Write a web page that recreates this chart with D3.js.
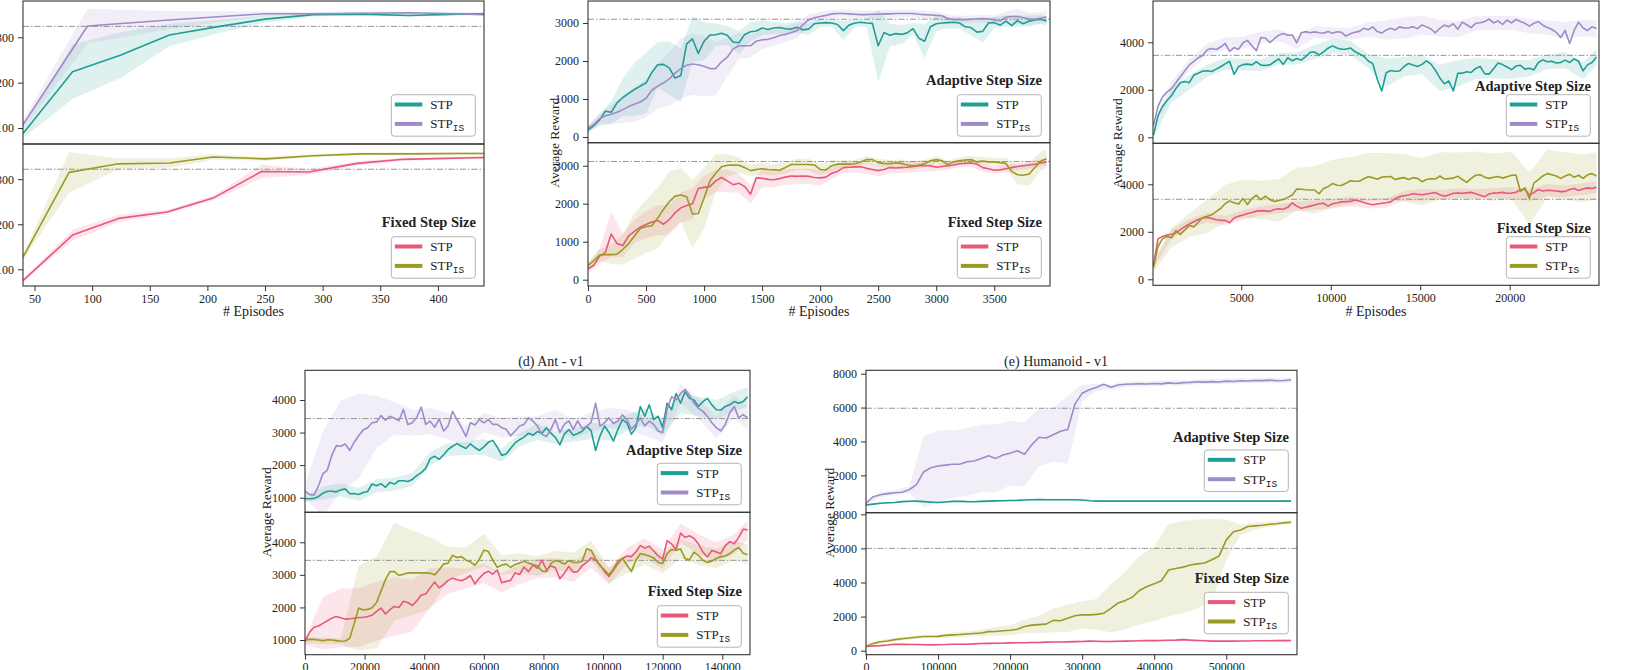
<!DOCTYPE html>
<html>
<head>
<meta charset="utf-8">
<script src="https://cdn.jsdelivr.net/npm/d3@7"></script>
<style>
  body { margin: 0; background: #fff; }
  svg { display: block; font-family: 'Liberation Serif', 'Times New Roman', serif; }
</style>
</head>
<body>
<svg id="chart" width="1640" height="670"></svg>
<script>
// colours of the four runs
const tealColor = '#1f9e94';
const purpleColor = '#9e8bc8';
const pinkColor = '#e8587a';
const oliveColor = '#9a9b22';

// ---------- panel 1 (top left) ----------
const p1TealX = [40, 83, 125, 167, 208, 250, 292, 333, 375, 417, 440];
const p1TealY = [88, 224, 261, 305, 323, 340, 350, 351, 348, 351, 352];
const p1TealSd = [10, 60, 50, 25, 15, 8, 4, 3, 3, 3, 3];
const p1PurpleX = [40, 96, 167, 250, 292, 333, 375, 417, 440];
const p1PurpleY = [107, 325, 338, 352, 352, 353, 354, 352, 350];
const p1PurpleSd = [10, 38, 20, 5, 3, 3, 3, 3, 3];
const p1PinkX = [40, 83, 123, 165, 205, 247, 288, 330, 370, 440];
const p1PinkY = [75, 176, 213, 227, 258, 317, 316, 335, 344, 348];
const p1PinkSd = [3, 12, 8, 5, 5, 15, 6, 5, 3, 3];
const p1OliveX = [40, 80, 123, 167, 205, 250, 292, 333, 375, 417, 440];
const p1OliveY = [127, 315, 334, 336, 349, 345, 352, 356, 356, 357, 357];
const p1OliveSd = [5, 45, 12, 10, 6, 4, 3, 3, 3, 3, 3];

// ---------- panel 2 (top middle), one value every 50 episodes ----------
const p2Episodes = d3.range(0, 4000, 50);
const p2Teal = [180, 300, 450, 680, 650, 900, 1040, 1150, 1250, 1340,
  1420, 1700, 1900, 1910, 1820, 1550, 1620, 2450, 2580, 2200,
  2520, 2680, 2690, 2730, 2680, 2500, 2480, 2700, 2770, 2790,
  2870, 2830, 2870, 2880, 2850, 2840, 2890, 2820, 2840, 2980,
  3000, 3010, 3000, 2960, 2800, 2950, 3000, 3020, 3000, 2990,
  2400, 2750, 2680, 2720, 2700, 2740, 2850, 2600, 2520, 2900,
  2980, 3000, 3010, 3020, 3000, 2900, 2880, 2760, 2780, 3000,
  3010, 2940, 3050, 2930, 3060, 2980, 3050, 3080, 3100, 3050];
const p2Purple = [230, 330, 480, 560, 600, 650, 720, 800, 860, 920,
  1020, 1230, 1340, 1420, 1530, 1680, 1800, 1890, 1920, 1900,
  1860, 1800, 1800, 1980, 2100, 2320, 2400, 2400, 2400, 2520,
  2560, 2570, 2610, 2670, 2700, 2750, 2800, 2950, 3080, 3140,
  3170, 3200, 3240, 3250, 3250, 3240, 3230, 3220, 3220, 3230,
  3230, 3240, 3240, 3250, 3250, 3250, 3250, 3230, 3220, 3210,
  3200, 3190, 3120, 3090, 3090, 3090, 3100, 3110, 3120, 3110,
  3080, 3060, 3150, 3170, 3170, 3140, 3110, 3100, 3130, 3160];
const p2Pink = [280, 380, 620, 720, 1200, 950, 900, 1150, 1270, 1380,
  1450, 1520, 1560, 1460, 1580, 1760, 1890, 1950, 2000, 2400,
  2430, 2450, 2600, 2690, 2600, 2500, 2540, 2450, 2250, 2680,
  2670, 2640, 2630, 2660, 2700, 2730, 2720, 2730, 2720, 2690,
  2680, 2700, 2800, 2850, 2950, 2960, 2970, 2970, 2930, 2900,
  2870, 2900, 2950, 2940, 2950, 2960, 2980, 3000, 3000, 3000,
  2960, 2980, 3000, 3020, 3050, 3060, 3070, 3040, 2950, 2920,
  2880, 2890, 2920, 2950, 2980, 3000, 3020, 3040, 3070, 3100];
const p2Olive = [380, 500, 650, 660, 660, 670, 800, 950, 1150, 1350,
  1400, 1420, 1620, 1850, 2050, 2200, 2230, 2180, 1730, 1740,
  2150, 2600, 2800, 2970, 3010, 3020, 3010, 2950, 2870, 2900,
  2920, 2900, 2890, 2880, 2950, 3030, 3030, 3030, 3030, 3020,
  2900, 2890, 3000, 3040, 3040, 3040, 3050, 3100, 3160, 3160,
  3080, 3060, 3050, 3080, 3060, 3020, 3000, 3020, 3050, 3130,
  3160, 3130, 3030, 3100, 3130, 3150, 3160, 3100, 3120, 3100,
  3100, 3080, 3060, 2850, 2760, 2750, 2780, 2950, 3120, 3180];
// spread of the shaded band, one value every 100 episodes
const p2TealSd = [80, 150, 300, 500, 700, 800, 600, 700, 700, 600, 500, 300, 250, 300, 250, 200, 150, 150, 150, 150,
  100, 100, 250, 100, 100, 950, 300, 250, 150, 450, 200, 150, 150, 200, 300, 150, 150, 150, 150, 120];
const p2PurpleSd = [80, 150, 250, 350, 450, 500, 600, 700, 800, 800, 800, 700, 500, 350, 300, 250, 200, 200, 200, 150,
  120, 100, 100, 100, 100, 100, 100, 100, 100, 100, 100, 100, 100, 100, 100, 120, 150, 200, 150, 150];
const p2PinkSd = [100, 200, 600, 300, 300, 350, 400, 400, 400, 400, 300, 300, 300, 250, 250, 250, 200, 200, 200, 200,
  200, 150, 150, 150, 150, 150, 150, 150, 150, 150, 100, 100, 100, 100, 100, 100, 100, 100, 100, 100];
const p2OliveSd = [100, 150, 250, 400, 600, 700, 800, 800, 700, 900, 800, 500, 300, 200, 150, 150, 150, 150, 150, 150,
  150, 150, 100, 100, 100, 100, 100, 100, 100, 100, 100, 100, 100, 100, 100, 100, 150, 250, 300, 250];

// ---------- panel 3 (top right), one value every 250 episodes ----------
const p3Episodes = d3.range(100, 25000, 250);
const p3Teal = [100, 900, 1300, 1550, 1750, 2050, 2300, 2350, 2300, 2620,
  2700, 2790, 2800, 2770, 2870, 2970, 3090, 3200, 2650, 2980,
  3060, 3080, 3050, 3180, 3040, 3020, 3050, 3180, 3300, 3070,
  3350, 3220, 3320, 3250, 3400, 3580, 3590, 3470, 3600, 3750,
  3850, 3760, 3710, 3710, 3760, 3610, 3510, 3410, 3210, 3100,
  2450, 1950, 2720, 2810, 2780, 2790, 2980, 3110, 3040, 2980,
  3070, 3220, 3080, 2820, 2500, 2250, 2370, 1950, 2690, 2700,
  2760, 2730, 2900, 2980, 2680, 2660, 2890, 3130, 3060, 2960,
  2850, 3000, 3030, 2870, 2910, 2840, 3150, 3260, 3180, 3200,
  3130, 3150, 3250, 3150, 3300, 3200, 2800, 3050, 3150, 3380];
const p3Purple = [500, 1300, 1700, 1900, 2050, 2300, 2550, 2800, 3050, 3200,
  3350, 3450, 3690, 3740, 3700, 3800, 3950, 3620, 3780, 3700,
  3980, 4080, 3850, 3650, 4200, 4180, 3990, 4150, 4300, 4370,
  4300, 4310, 3980, 4400, 4450, 4400, 4440, 4400, 4380, 4450,
  4380, 4440, 4420, 4260, 4360, 4420, 4460, 4590, 4530, 4650,
  4450, 4390, 4520, 4590, 4520, 4650, 4600, 4600, 4660, 4570,
  4730, 4650, 4560, 4400, 4590, 4720, 4660, 4780, 4550, 4850,
  4740, 4620, 4800, 4820, 4870, 4980, 4820, 4900, 4750, 4940,
  4820, 4960, 4880, 4800, 4680, 4800, 4870, 4720, 4620, 4550,
  4420, 4200, 4500, 3950, 4500, 4850, 4600, 4500, 4650, 4580];
const p3Pink = [600, 1700, 1800, 1860, 1900, 1950, 2090, 2220, 2330, 2420,
  2520, 2580, 2600, 2560, 2510, 2480, 2480, 2380, 2580, 2660,
  2710, 2770, 2810, 2870, 2890, 2880, 2860, 2940, 2970, 2950,
  3030, 3220, 3080, 2990, 3030, 3080, 3130, 3180, 3200, 3080,
  3180, 3210, 3260, 3270, 3280, 3340, 3300, 3230, 3180, 3140,
  3170, 3200, 3220, 3260, 3400, 3480, 3520, 3550, 3600, 3580,
  3560, 3590, 3620, 3650, 3560, 3500, 3550, 3620, 3630, 3620,
  3640, 3660, 3600, 3540, 3480, 3590, 3630, 3640, 3660, 3620,
  3630, 3660, 3770, 3790, 3550, 3650, 3780, 3720, 3750, 3740,
  3720, 3690, 3700, 3780, 3820, 3740, 3800, 3850, 3820, 3880];
const p3Olive = [500, 1380, 1700, 1800, 1750, 2050, 1890, 2080, 2280, 2200,
  2400, 2600, 2650, 2720, 2850, 2980, 3180, 3300, 3220, 3170,
  3400, 3150, 3410, 3540, 3350, 3500, 3350, 3280, 3320, 3360,
  3450, 3550, 3800, 3790, 3770, 3760, 3760, 3600, 3820, 3900,
  4030, 3960, 3950, 4040, 4150, 4130, 4130, 4230, 4320, 4280,
  4210, 4300, 4320, 4330, 4200, 4250, 4280, 4200, 4280, 4250,
  4110, 4200, 4230, 4220, 4350, 4220, 4240, 4260, 4340, 4200,
  4080, 4250, 4380, 4400, 4300, 4250, 4300, 4330, 4260, 4320,
  4380, 4390, 3700, 3850, 3400, 4050, 4200, 4350, 4450, 4400,
  4350, 4250, 4350, 4420, 4300, 4380, 4250, 4400, 4450, 4350];
// band spread, one value every 1000 episodes
const p3TealSd = [100, 300, 300, 250, 250, 250, 250, 250, 250, 300, 300, 300, 300, 600, 400, 400, 550, 550, 450, 400, 400, 350, 300, 350, 350];
const p3PurpleSd = [200, 300, 250, 250, 250, 250, 250, 250, 250, 250, 250, 250, 300, 400, 450, 400, 350, 350, 300, 300, 300, 300, 300, 350, 350];
const p3PinkSd = [150, 200, 200, 200, 200, 200, 200, 200, 200, 200, 200, 200, 200, 200, 200, 250, 200, 200, 200, 200, 250, 250, 250, 250, 250];
const p3OliveSd = [200, 400, 500, 700, 800, 800, 800, 900, 900, 1000, 1000, 1000, 1000, 1000, 1000, 1000, 1000, 1000, 1000, 1000, 1000, 1100, 1000, 1000, 1000];

// ---------- panel 4 (Ant - v1), one value every 1500 episodes ----------
const p4Episodes = d3.range(0, 150000, 1500);
const p4Teal = [970, 970, 980, 1030, 1140, 1200, 1200, 1180, 1240, 1270,
  1120, 1130, 1100, 1160, 1190, 1420, 1370, 1430, 1320, 1470,
  1420, 1520, 1520, 1500, 1560, 1680, 1770, 1900, 2200, 2270,
  2180, 2320, 2480, 2580, 2660, 2580, 2510, 2650, 2540, 2450,
  2560, 2700, 2760, 2550, 2300, 2340, 2520, 2680, 2780, 2860,
  2980, 2920, 3030, 2980, 3150, 2980, 2850, 2620, 2950, 3090,
  2920, 2970, 3040, 3190, 3050, 2450, 2900, 3200, 3000, 2740,
  3100, 3400, 3300, 2950, 3150, 3800, 3500, 3850, 3400, 3500,
  3150, 3900, 3700, 4200, 3900, 4250, 4050, 4000, 3800, 3950,
  4050, 3850, 3700, 3690, 3800, 3850, 3950, 3900, 3950, 4100];
const p4Purple = [1200, 1100, 1080, 1360, 1730, 1850, 2300, 2600, 2580, 2650,
  2450, 2700, 2900, 3080, 3150, 3300, 3320, 3520, 3380, 3500,
  3440, 3360, 3710, 3250, 3300, 3470, 3780, 3250, 3350, 3160,
  3420, 3050, 3200, 3650, 3400, 3150, 2880, 3300, 3230, 3400,
  3300, 3400, 3250, 3250, 3150, 3100, 2900, 3050, 3200, 3250,
  3450, 3350, 3200, 2950, 2880, 3100, 3400, 3000, 3250, 3360,
  3100, 3360, 3120, 3180, 3320, 3900, 3200, 3300, 3450, 3280,
  3350, 3540, 3400, 3100, 3250, 3450, 3200, 3350, 3250, 3050,
  3000, 3700, 4100, 4000, 4200, 4320, 4150, 3900, 3750, 3650,
  3500, 3300, 3150, 3050, 3250, 3600, 3800, 3450, 3550, 3450];
const p4Pink = [950, 1230, 1390, 1430, 1510, 1590, 1670, 1720, 1680, 1640,
  1650, 1670, 1690, 1690, 1720, 1760, 1880, 1980, 1800, 1930,
  2030, 2000, 2190, 2150, 2060, 2200, 2380, 2410, 2600, 2780,
  2600, 2700, 2830, 2900, 2850, 2820, 2880, 2980, 2720, 2900,
  3040, 3110, 3020, 3150, 2760, 2800, 2830, 3060, 3010, 3240,
  3100, 3300, 3200, 3450, 3150, 3280, 3220, 2880, 3050, 3260,
  3080, 3100, 3280, 3380, 3520, 3450, 3300, 3100, 2950, 3150,
  3350, 3500, 3580, 3560, 3700, 3900, 3820, 3880, 3730, 3580,
  3480, 4050, 3950, 3780, 4280, 4150, 4200, 4120, 3950, 3700,
  3550, 3750, 3700, 3650, 3900, 4020, 3950, 4150, 4400, 4380];
const p4Olive = [1000, 1020, 1020, 1000, 980, 1010, 1000, 980, 960, 970,
  1050, 1500, 1980, 1920, 1940, 1990, 2150, 2500, 2850, 3100,
  3100, 2980, 3020, 3060, 3060, 3060, 3060, 3060, 3050, 3000,
  3150, 3330, 3360, 3600, 3530, 3560, 3450, 3400, 3290, 3480,
  3760, 3720, 3460, 3230, 3300, 3330, 3230, 3320, 3360, 3420,
  3360, 3320, 3270, 3120, 3100, 3350, 3440, 3400, 3330, 3440,
  3380, 3380, 3420, 3800, 3750, 3480, 3280, 3150, 3000, 3180,
  3420, 3500, 3300, 3100, 3450, 3650, 3620, 3580, 3520, 3380,
  3350, 3650, 3780, 3750, 3800, 3500, 3460, 3700, 3600, 3450,
  3380, 3420, 3500, 3560, 3580, 3650, 3760, 3840, 3660, 3620];
// band spread, one value every 6000 episodes
const p4TealSd = [100, 200, 200, 200, 200, 200, 200, 200, 200, 200, 250, 200, 200, 250, 200, 200, 250, 250, 250, 250, 250, 300, 300, 300, 300];
const p4PurpleSd = [200, 1300, 1400, 1300, 800, 500, 400, 400, 400, 350, 300, 300, 300, 300, 300, 300, 300, 300, 300, 300, 300, 300, 300, 350, 350];
const p4PinkSd = [100, 800, 900, 900, 900, 900, 800, 600, 400, 300, 300, 300, 300, 300, 300, 300, 300, 250, 250, 300, 300, 300, 300, 300, 300];
const p4OliveSd = [100, 100, 100, 1300, 1400, 1500, 1300, 1100, 500, 400, 500, 300, 300, 300, 300, 300, 300, 250, 250, 300, 300, 300, 300, 300, 300];

// ---------- panel 5 (Humanoid - v1), one value every 10000 episodes ----------
const p5Episodes = d3.range(0, 600000, 10000);
const p5Teal = [250, 300, 350, 380, 400, 450, 470, 480, 450, 420,
  400, 430, 460, 470, 450, 440, 460, 480, 490, 500,
  510, 520, 540, 560, 570, 560, 560, 560, 560, 560,
  540, 500, 480, 480, 480, 480, 480, 480, 480, 480,
  480, 480, 480, 480, 480, 480, 480, 480, 480, 480,
  480, 480, 480, 480, 480, 480, 480, 480, 480, 490];
const p5Purple = [350, 740, 850, 920, 970, 1000, 1150, 1450, 2200, 2450,
  2550, 2600, 2650, 2650, 2800, 2850, 3000, 3150, 3000, 3200,
  3300, 3450, 3250, 3800, 4250, 4200, 4400, 4600, 4700, 6200,
  6850, 7050, 7200, 7380, 7200, 7330, 7380, 7390, 7400, 7390,
  7420, 7400, 7460, 7420, 7470, 7490, 7520, 7500, 7530, 7510,
  7560, 7540, 7580, 7570, 7600, 7590, 7620, 7580, 7600, 7630];
const p5Pink = [250, 280, 300, 330, 380, 370, 360, 360, 350, 340,
  350, 360, 380, 380, 380, 400, 420, 430, 440, 440,
  460, 470, 470, 480, 480, 500, 510, 510, 520, 530,
  540, 560, 550, 540, 540, 550, 560, 570, 580, 590,
  590, 600, 610, 620, 650, 620, 600, 580, 560, 560,
  560, 560, 570, 570, 580, 580, 580, 590, 590, 600];
const p5Olive = [250, 430, 520, 570, 650, 700, 740, 790, 830, 830,
  840, 900, 930, 950, 980, 1010, 1040, 1120, 1130, 1170,
  1200, 1260, 1420, 1500, 1530, 1560, 1780, 1760, 1900, 2050,
  2100, 2100, 2130, 2200, 2480, 2800, 2950, 3150, 3550, 3760,
  3920, 4100, 4730, 4820, 4900, 5030, 5090, 5140, 5330, 5550,
  6500, 6980, 7080, 7280, 7320, 7360, 7420, 7450, 7500, 7530];
// band spread, one value every 20000 episodes
const p5TealSd = [60, 60, 60, 60, 60, 60, 60, 60, 60, 60, 60, 60, 60, 60, 60, 60, 60, 60, 60, 60, 60, 60, 60, 60, 60, 60, 60, 60, 60, 60];
const p5PurpleSd = [100, 150, 150, 200, 2100, 2100, 2000, 2000, 2000, 2000, 1900, 1900, 1700, 1600, 2000, 500, 200, 150, 150, 150, 150, 150, 150, 150, 150, 150, 150, 150, 150, 150];
const p5PinkSd = [60, 60, 60, 60, 60, 60, 60, 60, 60, 60, 60, 60, 60, 60, 60, 60, 60, 60, 60, 60, 60, 60, 60, 60, 60, 60, 60, 60, 60, 60];
const p5OliveSd = [80, 100, 100, 100, 100, 100, 150, 150, 200, 250, 300, 400, 500, 700, 800, 800, 900, 1400, 1700, 2000, 2200, 2700, 2700, 2600, 2400, 1200, 300, 200, 150, 100];

// tick values
const p1XTicks = [50, 100, 150, 200, 250, 300, 350, 400];
const p1YTicks = [100, 200, 300];
const p2XTicks = [0, 500, 1000, 1500, 2000, 2500, 3000, 3500];
const p2YTicks = [0, 1000, 2000, 3000];
const p3XTicks = [5000, 10000, 15000, 20000];
const p3YTicks = [0, 2000, 4000];
const p4XTicks = [0, 20000, 40000, 60000, 80000, 100000, 120000, 140000];
const p4YTicks = [1000, 2000, 3000, 4000];
const p5XTicks = [0, 100000, 200000, 300000, 400000, 500000];
const p5YTicksTop = [2000, 4000, 6000, 8000];
const p5YTicksBottom = [0, 2000, 4000, 6000, 8000];

const serif = "'Liberation Serif', 'Times New Roman', serif";
const svg = d3.select('#chart');

function run(name, color, xs, ys, sds, every) {
    return {name: name, color: color, xs: xs, ys: ys, sds: sds, every: every};
}
function adaptive(tx, ty, tsd, px, py, psd, every) {
    return [run('STP', tealColor, tx, ty, tsd, every), run('IS', purpleColor, px, py, psd, every)];
}
function fixed(kx, ky, ksd, ox, oy, osd, every) {
    return [run('STP', pinkColor, kx, ky, ksd, every), run('IS', oliveColor, ox, oy, osd, every)];
}

const panels = [
    {left: 23, right: 484, xDomain: [40, 440], xTicks: p1XTicks, xLabel: true,
     subs: [
        {top: 1, bottom: 144, yDomain: [64.7, 380], yTicks: p1YTicks, ref: 324, legendTop: 94.7,
         series: [run('STP', tealColor, p1TealX, p1TealY, p1TealSd, 1), run('IS', purpleColor, p1PurpleX, p1PurpleY, p1PurpleSd, 1)]},
        {top: 144, bottom: 286, yDomain: [63, 378], yTicks: p1YTicks, ref: 322, legendTop: 236.7,
         label: 'Fixed Step Size', labelGap: 10,
         series: [run('STP', pinkColor, p1PinkX, p1PinkY, p1PinkSd, 1), run('IS', oliveColor, p1OliveX, p1OliveY, p1OliveSd, 1)]}
     ]},
    {left: 588, right: 1050, xDomain: [0, 3980], xTicks: p2XTicks, xLabel: true, yLabelX: 554,
     subs: [
        {top: 1, bottom: 142.7, yDomain: [-150, 3579], yTicks: p2YTicks, ref: 3100, legendTop: 94.7,
         label: 'Adaptive Step Size', labelGap: 9.7,
         series: adaptive(p2Episodes, p2Teal, p2TealSd, p2Episodes, p2Purple, p2PurpleSd, 2)},
        {top: 142.7, bottom: 286, yDomain: [-166, 3605], yTicks: p2YTicks, ref: 3110, legendTop: 236.7,
         label: 'Fixed Step Size', labelGap: 10,
         series: fixed(p2Episodes, p2Pink, p2PinkSd, p2Episodes, p2Olive, p2OliveSd, 2)}
     ]},
    {left: 1153, right: 1599, xDomain: [70, 24990], xTicks: p3XTicks, xLabel: true, yLabelX: 1117,
     subs: [
        {top: 1, bottom: 143.3, yDomain: [-253, 5739], yTicks: p3YTicks, ref: 3450, legendTop: 94.7,
         label: 'Adaptive Step Size', labelGap: 3.5,
         series: adaptive(p3Episodes, p3Teal, p3TealSd, p3Episodes, p3Purple, p3PurpleSd, 4)},
        {top: 143.3, bottom: 285.3, yDomain: [-253, 5726], yTicks: p3YTicks, ref: 3370, legendTop: 236.7,
         label: 'Fixed Step Size', labelGap: 3.7,
         series: fixed(p3Episodes, p3Pink, p3PinkSd, p3Episodes, p3Olive, p3OliveSd, 4)}
     ]},
    {left: 305, right: 750, xDomain: [0, 149300], xTicks: p4XTicks, yLabelX: 266.7,
     title: '(d) Ant - v1', titleX: 551,
     subs: [
        {top: 370.3, bottom: 512.3, yDomain: [552, 4911], yTicks: p4YTicks, ref: 3430, legendTop: 463.3,
         label: 'Adaptive Step Size', labelGap: 8.3,
         series: adaptive(p4Episodes, p4Teal, p4TealSd, p4Episodes, p4Purple, p4PurpleSd, 4)},
        {top: 512.3, bottom: 654.7, yDomain: [549, 4920], yTicks: p4YTicks, ref: 3445, legendTop: 605.7,
         label: 'Fixed Step Size', labelGap: 10,
         series: fixed(p4Episodes, p4Pink, p4PinkSd, p4Episodes, p4Olive, p4OliveSd, 4)}
     ]},
    {left: 866, right: 1297, xDomain: [0, 598200], xTicks: p5XTicks, yLabelX: 829.3,
     title: '(e) Humanoid - v1', titleX: 1056,
     subs: [
        {top: 370.3, bottom: 512.7, yDomain: [-206, 8200], yTicks: p5YTicksTop, ref: 5960, legendTop: 450,
         label: 'Adaptive Step Size', labelGap: 8.3,
         series: adaptive(p5Episodes, p5Teal, p5TealSd, p5Episodes, p5Purple, p5PurpleSd, 2)},
        {top: 512.7, bottom: 654.7, yDomain: [-235, 8094], yTicks: p5YTicksBottom, ref: 6000, legendTop: 592.3,
         label: 'Fixed Step Size', labelGap: 9.6,
         series: fixed(p5Episodes, p5Pink, p5PinkSd, p5Episodes, p5Olive, p5OliveSd, 2)}
     ]}
];

// band = mean +- spread, taken at every n-th point of the run
function bandPoints(s) {
    const pts = s.sds.map(function (sd, i) {
        const j = Math.min(i * s.every, s.ys.length - 1);
        return {x: s.xs[j], lo: s.ys[j] - sd, hi: s.ys[j] + sd};
    });
    const last = s.ys.length - 1;
    if ((s.sds.length - 1) * s.every < last) {
        const sd = s.sds[s.sds.length - 1];
        pts.push({x: s.xs[last], lo: s.ys[last] - sd, hi: s.ys[last] + sd});
    }
    return pts;
}

function drawLegend(g, right, top, items) {
    const w = 84, h = 41.5;
    const x0 = right - 8.7 - w;
    g.append('rect')
        .attr('x', x0).attr('y', top)
        .attr('width', w).attr('height', h)
        .attr('rx', 3)
        .attr('fill', '#fff').attr('fill-opacity', 0.85)
        .attr('stroke', '#b5b5b5').attr('stroke-width', 1);
    items.forEach(function (it, k) {
        const yy = top + 9.8 + k * 19.4;
        g.append('line')
            .attr('x1', x0 + 3.5).attr('x2', x0 + 31)
            .attr('y1', yy).attr('y2', yy)
            .attr('stroke', it.color).attr('stroke-width', 4);
        const t = g.append('text')
            .attr('x', x0 + 39).attr('y', yy + 4.5)
            .attr('font-family', serif)
            .attr('font-size', 13).attr('fill', '#222')
            .text('STP');
        if (it.name === 'IS') {
            t.append('tspan')
                .attr('font-family', "'Liberation Mono', 'DejaVu Sans Mono', monospace")
                .attr('font-size', 9.5).attr('dy', 3)
                .text('IS');
        }
    });
}

function styleAxis(a) {
    a.attr('font-family', serif);
    a.select('.domain').remove();
    a.selectAll('line').attr('stroke', '#333');
    a.selectAll('text').attr('font-size', 12).attr('fill', '#222').attr('font-family', serif);
}

let clipCount = 0;

function drawPanel(p) {
    const g = svg.append('g');
    const x = d3.scaleLinear().domain(p.xDomain).range([p.left, p.right]);

    p.subs.forEach(function (s, k) {
        const y = d3.scaleLinear().domain(s.yDomain).range([s.bottom, s.top]);
        const clipId = 'clip' + (clipCount++);
        svg.append('clipPath').attr('id', clipId)
            .append('rect')
            .attr('x', p.left).attr('y', s.top)
            .attr('width', p.right - p.left).attr('height', s.bottom - s.top);

        const plot = g.append('g').attr('clip-path', 'url(#' + clipId + ')');

        // shaded bands
        s.series.forEach(function (ser) {
            plot.append('path')
                .datum(bandPoints(ser))
                .attr('d', d3.area().x(d => x(d.x)).y0(d => y(d.lo)).y1(d => y(d.hi)))
                .attr('fill', ser.color)
                .attr('fill-opacity', 0.15);
        });

        // reference level
        plot.append('line')
            .attr('x1', p.left).attr('x2', p.right)
            .attr('y1', y(s.ref)).attr('y2', y(s.ref))
            .attr('stroke', '#8a8a8a').attr('stroke-width', 0.9)
            .attr('stroke-dasharray', '6,2,1.5,2');

        // mean curves
        s.series.forEach(function (ser) {
            plot.append('path')
                .datum(ser.xs.map((v, i) => [v, ser.ys[i]]))
                .attr('d', d3.line().x(d => x(d[0])).y(d => y(d[1])))
                .attr('fill', 'none')
                .attr('stroke', ser.color)
                .attr('stroke-width', 1.6)
                .attr('stroke-linejoin', 'round');
        });

        // y axis
        const ya = g.append('g')
            .attr('transform', 'translate(' + p.left + ',0)')
            .call(d3.axisLeft(y).tickValues(s.yTicks).tickSize(5).tickPadding(4).tickFormat(d3.format('d')));
        styleAxis(ya);

        // frame
        g.append('rect')
            .attr('x', p.left).attr('y', s.top)
            .attr('width', p.right - p.left).attr('height', s.bottom - s.top)
            .attr('fill', 'none').attr('stroke', '#333').attr('stroke-width', 1.1);

        // text label and legend
        if (s.label) {
            g.append('text')
                .attr('x', p.right - 8).attr('y', s.legendTop - s.labelGap)
                .attr('text-anchor', 'end')
                .attr('font-family', serif)
                .attr('font-size', 14.5).attr('font-weight', 'bold').attr('fill', '#222')
                .text(s.label);
        }
        drawLegend(g, p.right, s.legendTop, s.series);

        // x axis on the lower plot only
        if (k === 1) {
            const xa = g.append('g')
                .attr('transform', 'translate(0,' + s.bottom + ')')
                .call(d3.axisBottom(x).tickValues(p.xTicks).tickSize(5).tickPadding(3).tickFormat(d3.format('d')));
            styleAxis(xa);
        }
    });

    const mid = p.subs[0].bottom;
    if (p.yLabelX) {
        g.append('text')
            .attr('transform', 'translate(' + p.yLabelX + ',' + mid + ') rotate(-90)')
            .attr('text-anchor', 'middle')
            .attr('dominant-baseline', 'central')
            .attr('font-family', serif)
            .attr('font-size', 13.5).attr('fill', '#222')
            .text('Average Reward');
    }
    if (p.xLabel) {
        g.append('text')
            .attr('x', (p.left + p.right) / 2).attr('y', 316)
            .attr('text-anchor', 'middle')
            .attr('font-family', serif)
            .attr('font-size', 14).attr('fill', '#222')
            .text('# Episodes');
    }
    if (p.title) {
        g.append('text')
            .attr('x', p.titleX).attr('y', 366)
            .attr('text-anchor', 'middle')
            .attr('font-family', serif)
            .attr('font-size', 14).attr('fill', '#222')
            .text(p.title);
    }
}

panels.forEach(drawPanel);
</script>
</body>
</html>
